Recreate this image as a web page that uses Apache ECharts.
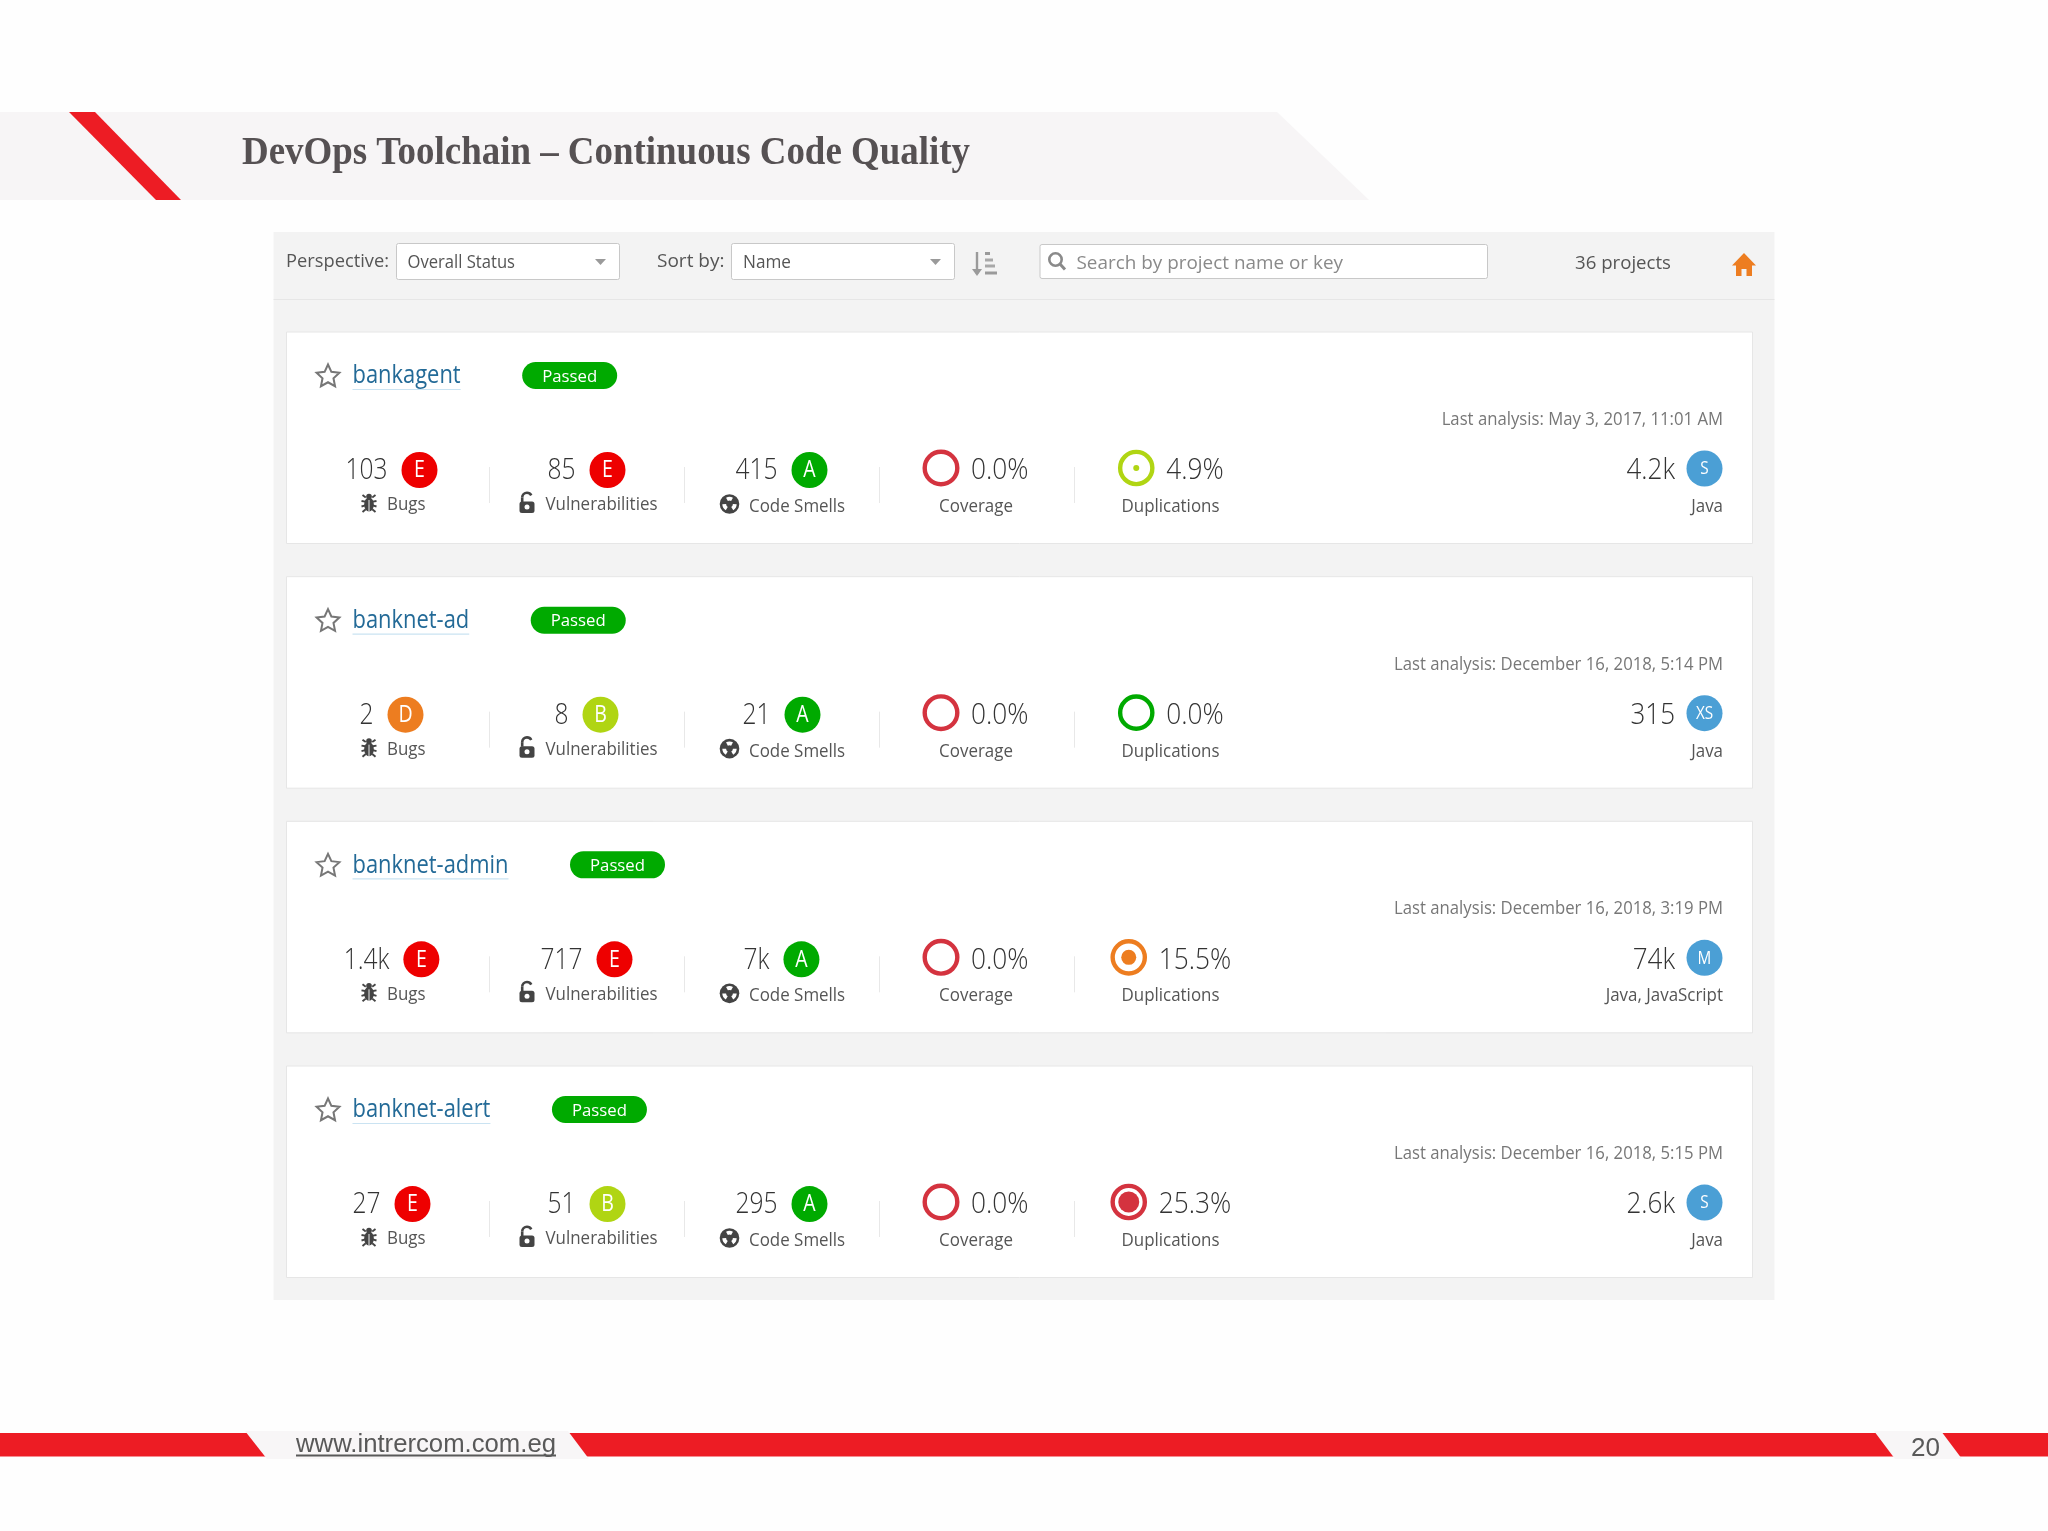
<!DOCTYPE html>
<html>
<head>
<meta charset="utf-8">
<style>html,body{margin:0;padding:0;background:#fefefe}#c{width:2048px;height:1531px}</style>
<script src="https://cdn.jsdelivr.net/npm/echarts@6/dist/echarts.min.js"></script>
</head>
<body>
<div id="c"></div>
<script>
const titleText = 'DevOps Toolchain – Continuous Code Quality';
const projectNames = ['bankagent', 'banknet-ad', 'banknet-admin', 'banknet-alert'];
const gateStatus = ['Passed', 'Passed', 'Passed', 'Passed'];
const lastAnalysis = ['May 3, 2017, 11:01 AM', 'December 16, 2018, 5:14 PM', 'December 16, 2018, 3:19 PM', 'December 16, 2018, 5:15 PM'];
const bugs = ['103', '2', '1.4k', '27'];
const bugRatings = ['E', 'D', 'E', 'E'];
const vulnerabilities = ['85', '8', '717', '51'];
const vulnerabilityRatings = ['E', 'B', 'E', 'B'];
const codeSmells = ['415', '21', '7k', '295'];
const codeSmellRatings = ['A', 'A', 'A', 'A'];
const coverage = [0.0, 0.0, 0.0, 0.0];
const duplications = [4.9, 0.0, 15.5, 25.3];
const sizes = ['4.2k', '315', '74k', '2.6k'];
const sizeRatings = ['S', 'XS', 'M', 'S'];
const languages = ['Java', 'Java', 'Java, JavaScript', 'Java'];
const metricLabels = ['Bugs', 'Vulnerabilities', 'Code Smells', 'Coverage', 'Duplications'];
const toolbarLabels = ['Perspective:', 'Overall Status', 'Sort by:', 'Name', 'Search by project name or key', '36 projects'];
const footerLink = 'www.intrercom.com.eg';
const pageNumber = '20';

const ratingColor = {A:'#00aa00', B:'#b0d513', C:'#eabe06', D:'#ed7d20', E:'#ee0000'};
const UI = "'Open Sans'";
const ctx = document.createElement('canvas').getContext('2d');
function measure(s, font){ ctx.font = font; return ctx.measureText(s).width; }
function fontOf(size, weight, family){ return (weight||400)+' '+size+'px '+(family||UI); }
function fitScale(ref, refW, font){ return refW / measure(ref, font); }

function txt(s, x, y, font, fill, scale, align){
  return {type:'text', x:x, y:y+1.2, scaleX:scale||1, silent:true,
    style:{text:s, font:font, fill:fill, align:align||'left', verticalAlign:'middle'}};
}
function poly(points, fill){ return {type:'polygon', silent:true, shape:{points:points}, style:{fill:fill}}; }
function rect(x,y,w,h,fill,stroke,r){
  return {type:'rect', silent:true, shape:{x:x,y:y,width:w,height:h,r:r||0}, style:{fill:fill, stroke:stroke||null, lineWidth:stroke?1:0}};
}
function disc(x,y,r,fill){ return {type:'circle', silent:true, shape:{cx:x,cy:y,r:r}, style:{fill:fill}}; }
function ring(x,y,r,stroke,lw){ return {type:'circle', silent:true, shape:{cx:x,cy:y,r:r}, style:{fill:'none', stroke:stroke, lineWidth:lw}}; }
function seg(x1,y1,x2,y2,stroke,lw){ return {type:'line', silent:true, shape:{x1:x1,y1:y1,x2:x2,y2:y2}, style:{stroke:stroke, lineWidth:lw}}; }

// fonts by role, each squeezed to the measured width of a reference string
const numF = fontOf(29, 300);
const numS = fitScale('103', 42, numF), pctS = fitScale('0.0%', 57.5, numF), sizeS = fitScale('4.2k', 48.5, numF);
const lblF = fontOf(18.5, 400);      const lblS = fitScale('Vulnerabilities', 112, lblF);
const nameF = fontOf(25, 400);       const nameS = fitScale('banknet-admin', 156, nameF);
const dateF = fontOf(18.5, 400);     const dateS = fitScale('Last analysis: December 16, 2018, 5:14 PM', 329, dateF);
const passF = fontOf(17, 400);       const passS = fitScale('Passed', 55, passF);
const barF = fontOf(19, 400);

const chrome = [];
// header band
chrome.push(poly([[0,112],[1277,112],[1369,200],[0,200]], '#f7f5f6'));
chrome.push(poly([[69,112],[95,112],[181,200],[156,200]], '#ed1c24'));
const titleF = fontOf(40, 700, "'Liberation Serif'");
chrome.push(txt(titleText, 242, 152, titleF, '#565153', fitScale(titleText, 728, titleF)));
// panel + toolbar
chrome.push(rect(273.5,232,1501,1068,'#f3f3f3'));
chrome.push(seg(273.5,299.5,1774.5,299.5,'#e6e6e6',1));
chrome.push(rect(396.5,243.5,223,36,'#ffffff','#c8c8c8',2));
chrome.push(rect(731.5,243.5,223,36,'#ffffff','#c8c8c8',2));
chrome.push(rect(1040,244.5,447.5,34,'#ffffff','#c8c8c8',2));
chrome.push(txt(toolbarLabels[0], 286, 260.5, barF, '#555555', fitScale(toolbarLabels[0],103,barF)));
chrome.push(txt(toolbarLabels[1], 407.5, 261, barF, '#555555', fitScale(toolbarLabels[1],107.5,barF)));
chrome.push(txt(toolbarLabels[2], 657, 260.5, barF, '#555555', fitScale(toolbarLabels[2],67.5,barF)));
chrome.push(txt(toolbarLabels[3], 743, 261, barF, '#555555', fitScale(toolbarLabels[3],48,barF)));
chrome.push(txt(toolbarLabels[4], 1076.5, 262, barF, '#8a8a8a', fitScale(toolbarLabels[4],266.5,barF)));
chrome.push(txt(toolbarLabels[5], 1575, 262.5, barF, '#555555', fitScale(toolbarLabels[5],96,barF)));
chrome.push(poly([[595,259],[606,259],[600.5,265]], '#9a9a9a'));
chrome.push(poly([[930,259],[941,259],[935.5,265]], '#9a9a9a'));
// sort icon
chrome.push(seg(977,252,977,274,'#9a9a9a',2.4));
chrome.push(poly([[972,269],[982,269],[977,276]], '#9a9a9a'));
chrome.push(rect(985,252,5,3,'#9a9a9a'));
chrome.push(rect(985,258.5,8,3,'#a8a8a8'));
chrome.push(rect(985,264.5,10,3,'#a8a8a8'));
chrome.push(rect(985,271.5,12,3,'#9a9a9a'));
// search icon
chrome.push(ring(1055.5,259.5,6.2,'#8a8a8a',2.6));
chrome.push(seg(1060,264,1065,269.5,'#8a8a8a',3));
// home icon
chrome.push(poly([[1744,253],[1756,265.5],[1752,265.5],[1752,276],[1746.5,276],[1746.5,269],[1741.5,269],[1741.5,276],[1736,276],[1736,265.5],[1732,265.5]], '#ed7d20'));
// footer
chrome.push(rect(0,1433,2048,23.5,'#ed1c24'));
chrome.push(poly([[245,1431],[568,1431],[589,1459],[267,1459]], '#f8f6f7'));
chrome.push(poly([[1874,1431],[1941,1431],[1962,1459],[1895,1459]], '#f8f6f7'));
const footF = fontOf(25, 400, "'Liberation Sans'");
chrome.push(txt(footerLink, 296, 1444, footF, '#595959', fitScale(footerLink,260,footF)));
chrome.push(seg(296,1455.5,556,1455.5,'#595959',2));
chrome.push(txt(pageNumber, 1911, 1448, footF, '#595959', fitScale(pageNumber,29,footF)));

function star(cx, cy, R){
  const pts = [];
  for (let k = 0; k < 10; k++){
    const r = k % 2 ? R*0.48 : R, a = -Math.PI/2 + k*Math.PI/5;
    pts.push([cx + r*Math.cos(a), cy + r*Math.sin(a)]);
  }
  return {type:'polygon', silent:true, shape:{points:pts}, style:{fill:'none', stroke:'#777777', lineWidth:2}};
}
function bugIcon(cx, cy){
  const c = '#444444', a = [];
  a.push({type:'ellipse', silent:true, shape:{cx:cx,cy:cy+1.5,rx:4.8,ry:7}, style:{fill:c}});
  a.push(disc(cx,cy-6.5,2.8,c));
  [[-6.5,-8],[-7.5,-2],[-7.5,3.5],[-6.5,9]].forEach(p=>{
    a.push(seg(cx+p[0]*0.5,cy+p[1]*0.7,cx+p[0],cy+p[1],c,1.9));
    a.push(seg(cx-p[0]*0.5,cy+p[1]*0.7,cx-p[0],cy+p[1],c,1.9));
  });
  a.push(seg(cx,cy-3,cx,cy+8.5,'#ffffff',0.9));
  return a;
}
function lockIcon(cx, cy){
  const c = '#444444';
  return [
    seg(cx-4.8,cy-4.5,cx-4.8,cy,c,2.6),
    {type:'arc', silent:true, shape:{cx:cx,cy:cy-4.5,r:4.8,startAngle:Math.PI,endAngle:Math.PI*1.85}, style:{fill:'none',stroke:c,lineWidth:2.6}},
    rect(cx-7.5,cy-0.5,15,11.5,c,null,2.5),
    disc(cx,cy+5,2.5,'#ffffff')
  ];
}
function smellIcon(cx, cy){
  const a = [disc(cx,cy,9.8,'#444444')];
  [-90,30,150].forEach(d=>{
    const m = d*Math.PI/180, w = 0.5;
    a.push({type:'sector', silent:true, shape:{cx:cx,cy:cy,r:7.2,r0:3.4,startAngle:m-w,endAngle:m+w}, style:{fill:'#ffffff'}});
  });
  return a;
}
function dupStyle(v){
  if (v < 3)  return {c:'#00aa00', dot:0};
  if (v < 5)  return {c:'#b0d513', dot:3};
  if (v < 10) return {c:'#eabe06', dot:5};
  if (v < 20) return {c:'#ed7d20', dot:7.5};
  return {c:'#d4333f', dot:10.5};
}

function renderItem(params, api){
  const i = api.value(1);
  const cy = api.coord([0, i])[1];
  const top = cy - 106;
  const Y = rel => top + rel;
  const kids = [];
  kids.push(rect(286.5, Y(0), 1466, 211.5, '#ffffff', '#e6e6e6'));
  kids.push(star(328, Y(44.5), 12));
  const nm = projectNames[i];
  const nameW = measure(nm, nameF) * nameS;
  kids.push(txt(nm, 352.5, Y(43), nameF, '#236a97', nameS));
  kids.push(seg(352.5, Y(57.5), 352.5+nameW, Y(57.5), '#cae3f2', 1.2));
  const px = 352.5 + nameW + 61.5;
  kids.push(rect(px, Y(30), 95, 27, '#00aa00', null, 13.5));
  kids.push(txt(gateStatus[i], px+47.5, Y(43.5), passF, '#ffffff', passS, 'center'));
  kids.push(txt('Last analysis: ' + lastAnalysis[i], 1723, Y(86.5), dateF, '#777777', dateS, 'right'));

  // number + rating badge, centred over each metric
  [[bugs, bugRatings, 391.5], [vulnerabilities, vulnerabilityRatings, 586.5], [codeSmells, codeSmellRatings, 781.5]].forEach(m=>{
    const s = m[0][i], r = m[1][i];
    const w = measure(s, numF) * numS, total = w + 14 + 36, x0 = m[2] - total/2;
    kids.push(txt(s, x0, Y(138), numF, '#333333', numS));
    kids.push(disc(x0 + w + 14 + 18, Y(138), 18, ratingColor[r]));
    kids.push(txt(r, x0 + w + 14 + 18, Y(137.5), fontOf(23,400), '#ffffff', 0.85, 'center'));
  });
  [489, 684, 879, 1074].forEach(x => kids.push(seg(x+0.5, Y(135), x+0.5, Y(171), '#e8e8e8', 1)));

  kids.push.apply(kids, bugIcon(369, Y(171)));
  kids.push(txt(metricLabels[0], 387, Y(172), lblF, '#555555', lblS));
  kids.push.apply(kids, lockIcon(527, Y(170)));
  kids.push(txt(metricLabels[1], 545.5, Y(172), lblF, '#555555', lblS));
  kids.push.apply(kids, smellIcon(729.5, Y(172)));
  kids.push(txt(metricLabels[2], 749, Y(173.5), lblF, '#555555', lblS));

  // coverage
  kids.push(ring(941, Y(136), 16.3, '#d4333f', 4.4));
  kids.push(txt(coverage[i].toFixed(1)+'%', 971, Y(138), numF, '#333333', pctS));
  kids.push(txt(metricLabels[3], 976, Y(173.5), lblF, '#555555', lblS, 'center'));

  // duplications
  const ds = dupStyle(duplications[i]);
  const dText = duplications[i].toFixed(1)+'%';
  const dw = measure(dText, numF) * pctS, dTotal = 36 + 12 + dw, dx = 1171 - dTotal/2;
  kids.push(ring(dx+18, Y(136), 16.1, ds.c, 4.4));
  if (ds.dot) kids.push(disc(dx+18, Y(136), ds.dot, ds.c));
  kids.push(txt(dText, dx+48, Y(138), numF, '#333333', pctS));
  kids.push(txt(metricLabels[4], 1170.5, Y(173.5), lblF, '#555555', lblS, 'center'));

  // size
  kids.push(txt(sizes[i], 1675, Y(138), numF, '#333333', sizeS, 'right'));
  kids.push(disc(1704.5, Y(136.5), 18, '#4b9fd5'));
  kids.push(txt(sizeRatings[i], 1704.5, Y(136), fontOf(18,400), '#ffffff', 0.85, 'center'));
  kids.push(txt(languages[i], 1723, Y(173.5), lblF, '#555555', lblS, 'right'));

  return {type:'group', children:kids};
}

const chart = echarts.init(document.getElementById('c'), null, {renderer:'canvas'});
chart.setOption({
  animation:false,
  backgroundColor:'#fefefe',
  tooltip:{show:false},
  graphic:{elements:chrome},
  grid:{left:0, top:315.67, width:2048, height:978.67},
  xAxis:{type:'value', min:0, max:2048, show:false},
  yAxis:{type:'category', data:projectNames, inverse:true, show:false},
  series:[{
    type:'custom', clip:false, silent:true, z:5,
    renderItem:renderItem,
    encode:{x:0, y:1},
    data:projectNames.map((n,i)=>[0,i])
  }]
});
</script>
</body>
</html>
